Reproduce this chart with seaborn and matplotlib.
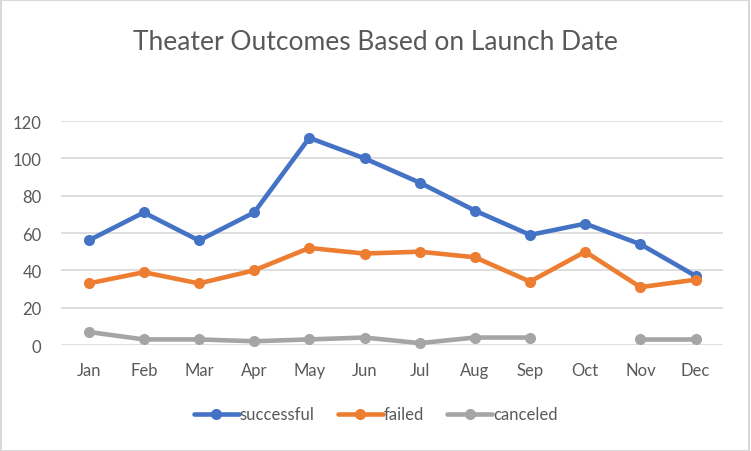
import matplotlib
matplotlib.use("Agg")
import matplotlib.pyplot as plt
import numpy as np
import pandas as pd
import seaborn as sns
from matplotlib.patches import Rectangle


MONTHS = ["Jan", "Feb", "Mar", "Apr", "May", "Jun",
          "Jul", "Aug", "Sep", "Oct", "Nov", "Dec"]
SUCCESSFUL = [56, 71, 56, 71, 111, 100, 87, 72, 59, 65, 54, 37]
FAILED = [33, 39, 33, 40, 52, 49, 50, 47, 34, 50, 31, 35]
CANCELED = [7, 3, 3, 2, 3, 4, 1, 4, 4, np.nan, 3, 3]
Y_TICKS = [0, 20, 40, 60, 80, 100, 120]

SERIES = {"successful": SUCCESSFUL, "failed": FAILED, "canceled": CANCELED}
PALETTE = {"successful": "#4472C4", "failed": "#ED7D31", "canceled": "#A5A5A5"}
TEXT_COLOR = "#595959"
GRID_COLOR = "#D9D9D9"


def build_frame():
    rows = []
    for name, values in SERIES.items():
        seg = 0
        for month, value in zip(MONTHS, values):
            if pd.isna(value):
                seg += 1  # break the line at missing months
                continue
            rows.append({"month": month, "count": value, "outcome": name,
                         "segment": f"{name}_{seg}"})
    return pd.DataFrame(rows)


def run():
    sns.set_theme(style="white")
    plt.rcParams["font.family"] = ["Lato", "DejaVu Sans"]

    df = build_frame()
    df["x"] = df["month"].map({m: i for i, m in enumerate(MONTHS)})

    fig = plt.figure(figsize=(7.51, 4.52), dpi=100)
    ax = fig.add_axes([0.0812, 0.2345, 0.8818, 0.4955])

    sns.lineplot(data=df, x="x", y="count", hue="outcome", units="segment",
                 estimator=None, palette=PALETTE, hue_order=list(SERIES),
                 marker="o", markersize=8, markeredgewidth=0, linewidth=3.3,
                 ax=ax, legend=False, sort=False)

    ax.set_xlim(-0.5, len(MONTHS) - 0.5)
    ax.set_ylim(0, 120)
    ax.set_xticks(range(len(MONTHS)))
    ax.set_xticklabels(MONTHS)
    ax.set_yticks(Y_TICKS)
    ax.set_xlabel("")
    ax.set_ylabel("")
    ax.tick_params(axis="both", length=0, labelsize=12, colors=TEXT_COLOR)
    ax.tick_params(axis="x", pad=12)
    ax.tick_params(axis="y", pad=14)
    ax.yaxis.grid(True, color=GRID_COLOR, linewidth=1.2)
    ax.set_axisbelow(True)
    for spine in ax.spines.values():
        spine.set_visible(False)
    for line in ax.lines:
        line.set_clip_on(False)

    fig.text(0.5, 0.907, "Theater Outcomes Based on Launch Date",
             ha="center", va="center", fontsize=19, color=TEXT_COLOR)

    handles = [plt.Line2D([], [], color=PALETTE[n], marker="o", markersize=8,
                          markeredgewidth=0, linewidth=3.3) for n in SERIES]
    fig.legend(handles, list(SERIES), loc="center", bbox_to_anchor=(0.5, 0.081),
               ncol=3, frameon=False, fontsize=12, handlelength=2.7,
               handletextpad=0.05, columnspacing=1.4, labelcolor=TEXT_COLOR)

    fig.add_artist(Rectangle((0.001, 0.001), 0.997, 0.997, transform=fig.transFigure,
                             fill=False, edgecolor=GRID_COLOR, linewidth=1.5))

    fig.savefig("out.png", dpi=100, facecolor="white")
    plt.close(fig)


if __name__ == "__main__":
    run()
